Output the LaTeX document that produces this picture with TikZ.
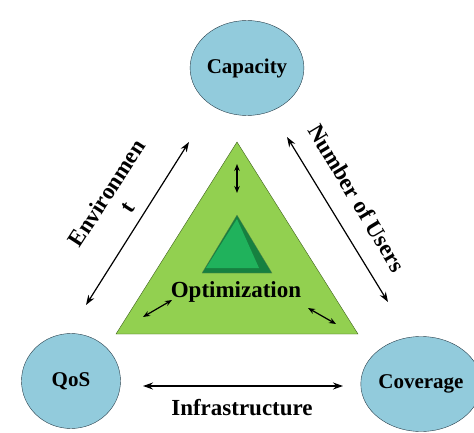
\documentclass[tikz,border=0pt]{standalone}
\usepackage{fontspec}
\setmainfont{Liberation Serif}
\usetikzlibrary{positioning}
\usetikzlibrary{shapes.geometric}
\usetikzlibrary{arrows.meta}
\definecolor{bubble}{RGB}{146,203,220}
\definecolor{bubbleline}{RGB}{40,62,74}
\definecolor{leaf}{RGB}{146,208,80}
\definecolor{leafline}{RGB}{62,96,28}
\definecolor{gem}{RGB}{32,178,92}
\definecolor{gemdark}{RGB}{22,128,64}
\tikzset{
  factor/.style  = { ellipse, draw=bubbleline, fill=bubble, thin, inner sep=0pt,
                     minimum width=99pt, minimum height=95pt,
                     font=\bfseries\fontsize{21}{24}\selectfont },
  relation/.style = { font=\bfseries\fontsize{23}{25}\selectfont },
  link/.style    = { {Stealth[length=10pt,width=7pt]}-{Stealth[length=10pt,width=7pt]},
                     line width=1.2pt, black },
  tiny/.style    = { {Stealth[length=7pt,width=5.5pt]}-{Stealth[length=7pt,width=5.5pt]},
                     line width=1.2pt, black }
}

\begin{document}
\begin{tikzpicture}[x=1pt,y=-1pt]
  \useasboundingbox (0,0) rectangle (474,433);

  % the three goals
  \node (cap) [factor] at (247,68)  {Capacity};
  \node (qos) [factor] at (71,381)  {QoS};
  \node (cov) [factor] at (421,384) {Coverage};

  % optimization triangle
  \draw [leafline, fill=leaf] (237,142) -- (358,334) -- (116,334) -- cycle;
  \fill [gemdark, draw=leafline!80, very thin] (237,215) -- (272,273) -- (202,273) -- cycle;
  \fill [gem] (237,219) -- (259,268) -- (206,268) -- cycle;
  \node (opt) [relation] at (236,292) {Optimization};

  \coordinate (optt) at (237,164);
  \coordinate (optb) at (237,193);
  \coordinate (optl) at (143,317);
  \coordinate (optm) at (172,300);
  \coordinate (optr) at (308,308);
  \coordinate (opts) at (336,324);
  \draw [tiny] (optt) -- (optb);
  \draw [tiny] (optl) -- (optm);
  \draw [tiny] (optr) -- (opts);

  % relations between the goals
  \coordinate (envtop) at (189,142);
  \coordinate (envbot) at (86,305);
  \coordinate (usrtop) at (287,137);
  \coordinate (usrbot) at (388,302);
  \coordinate (infl)   at (143,386);
  \coordinate (infr)   at (343,386);

  \draw [link] (envtop) -- (envbot);
  \draw [link] (usrtop) -- (usrbot);
  \draw [link] (infl) -- (infr);

  \node (env) [relation,align=center,rotate=57] at (117,200) {Environmen\\t};
  \node (usr) [relation,rotate=-59]             at (357,198) {Number of Users};
  \node (inf) [relation]                        at (242,408) {Infrastructure};
\end{tikzpicture}
\end{document}
